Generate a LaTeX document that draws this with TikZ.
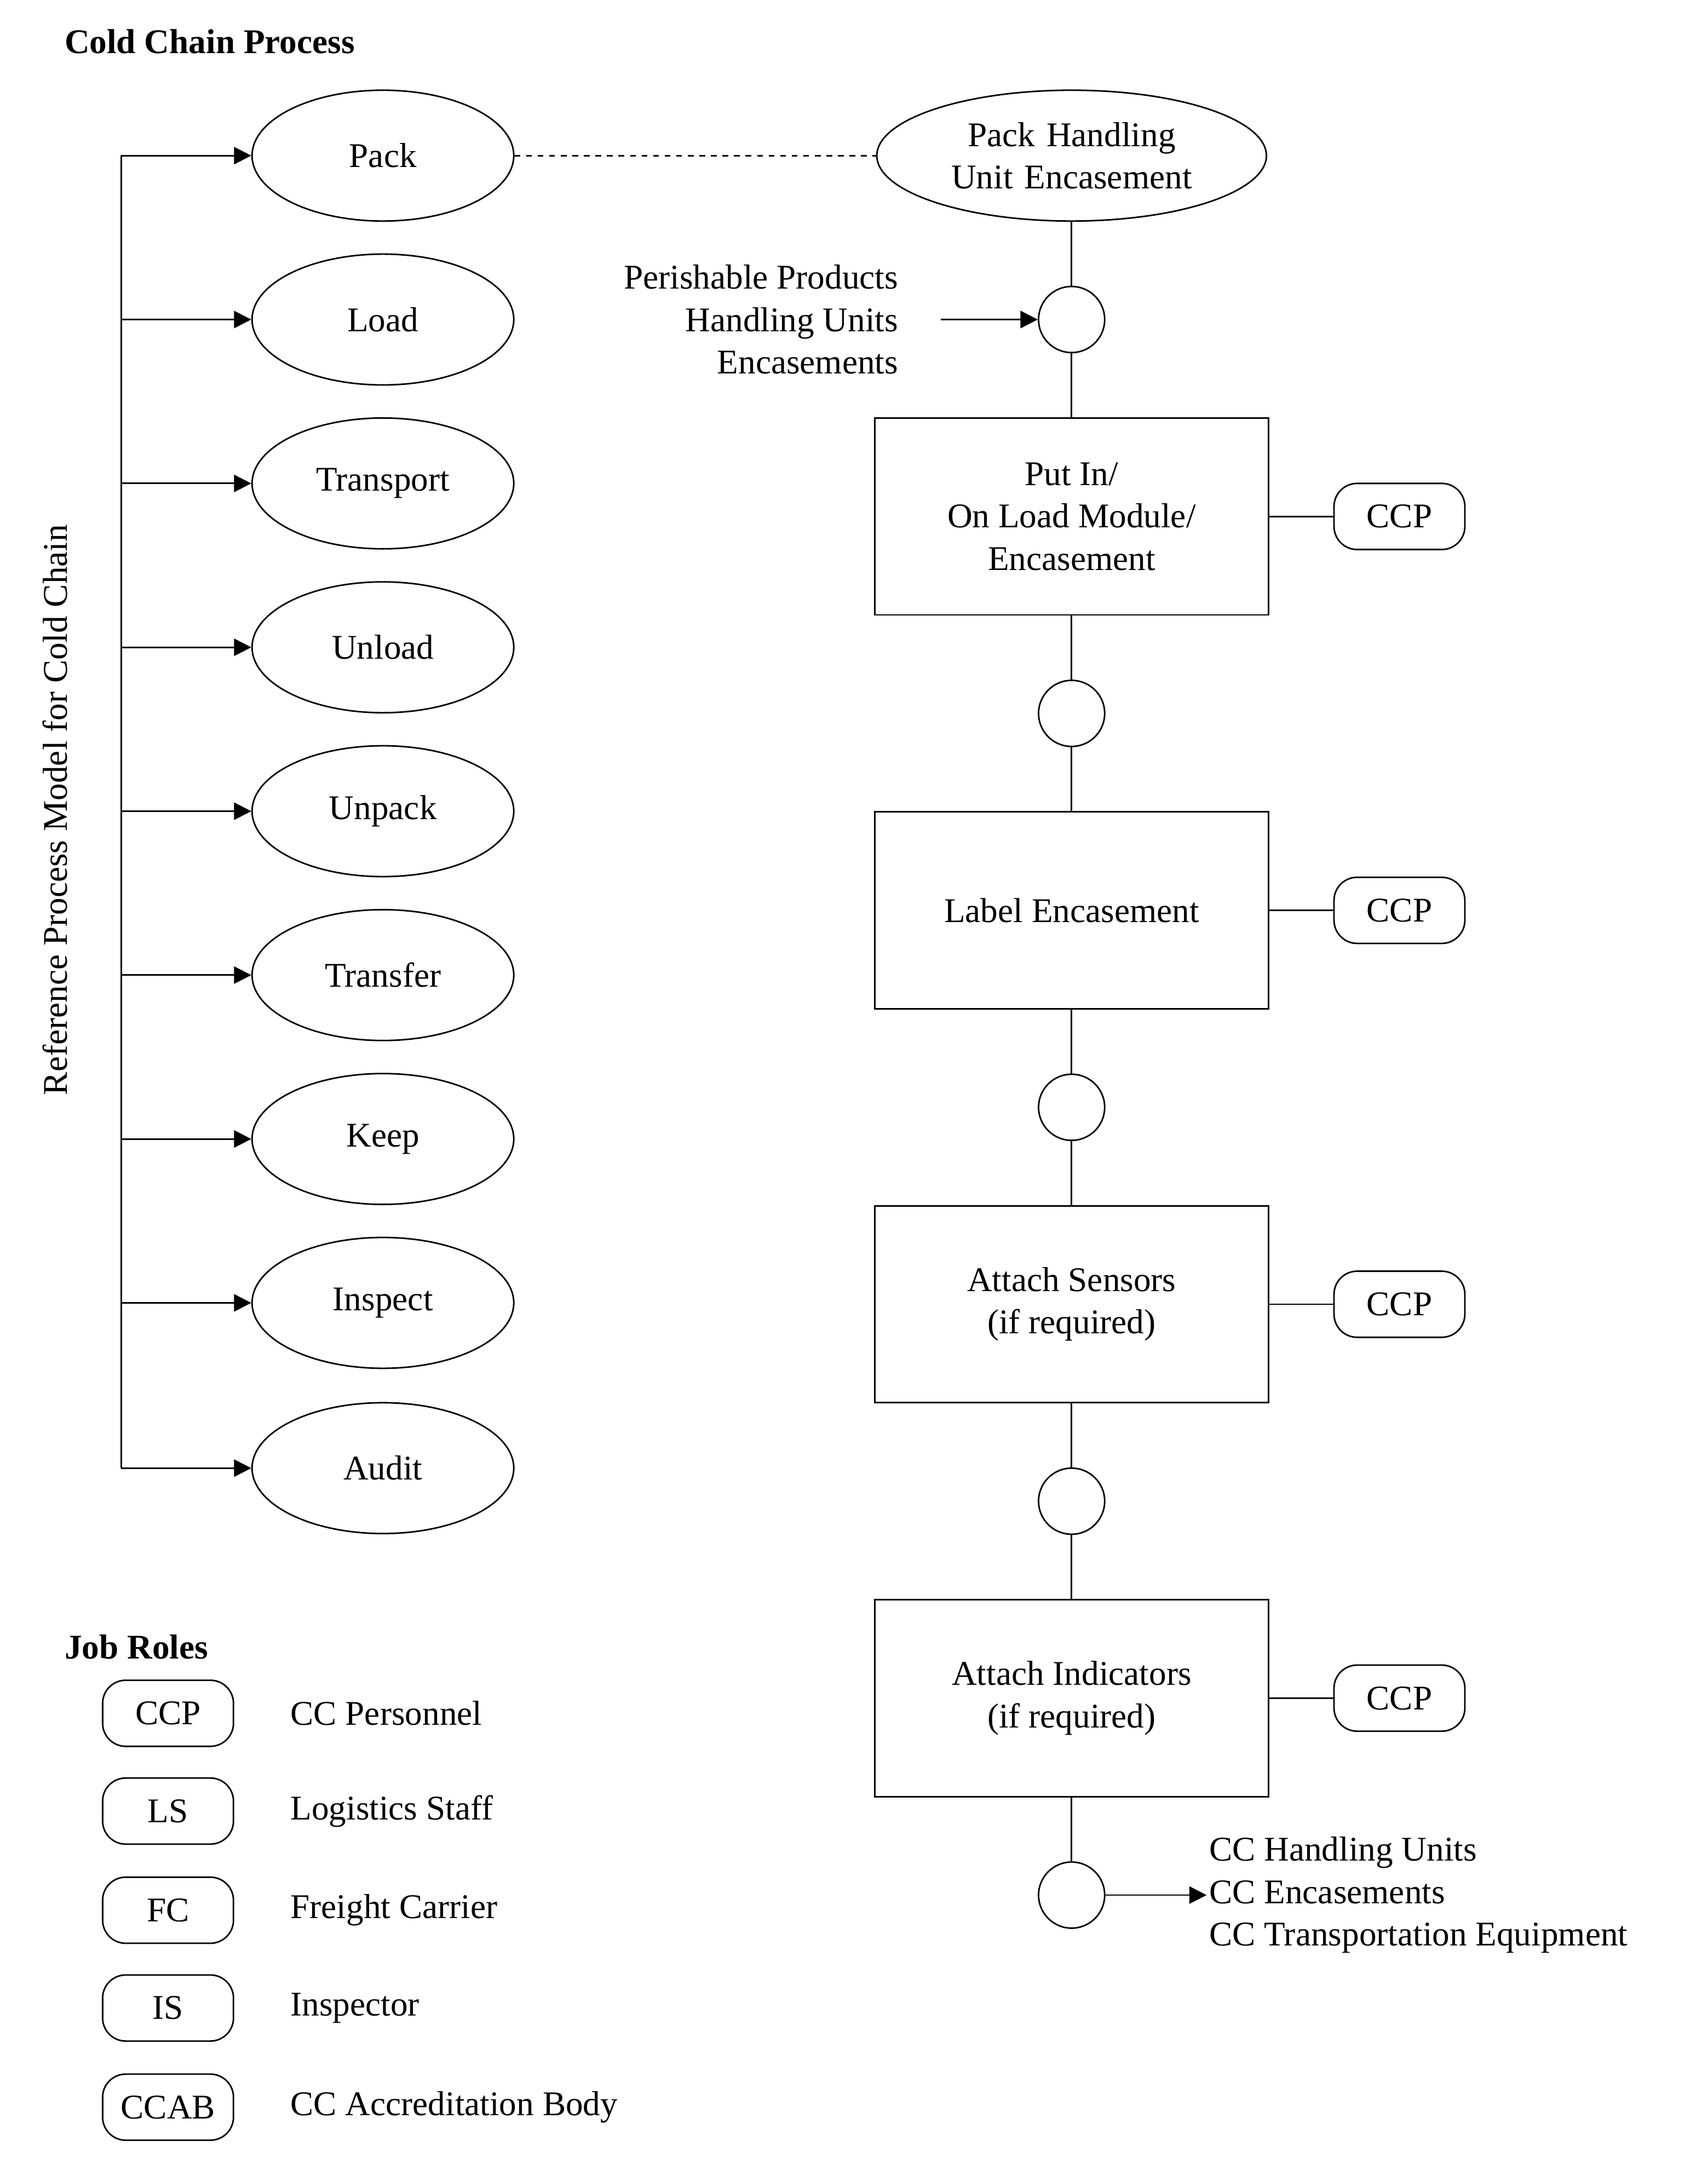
\documentclass[tikz,border=0pt]{standalone}
\usepackage{fontspec}
\setmainfont{Liberation Serif}
\usetikzlibrary{positioning,shapes.geometric,arrows.meta}
\tikzset{
  phase/.style={ellipse,draw,thick,minimum width=190*0.02515cm,minimum height=95*0.02515cm,inner sep=0pt},
  act/.style={rectangle,draw,thick,minimum width=286*0.02515cm,minimum height=143*0.02515cm,align=center},
  gate/.style={circle,draw,thick,minimum size=48*0.02515cm,inner sep=0pt},
  role/.style={rounded corners=12pt,draw,thick,minimum width=95*0.02515cm,minimum height=48*0.02515cm,inner sep=1pt},
  flow/.style={thick,-{Triangle[length=9pt,width=9pt]}}
}
\begin{document}
\begin{tikzpicture}[x=0.02515cm,y=-0.02515cm,font=\fontsize{18}{22}\selectfont]
  \useasboundingbox (0,0) rectangle (1240,1572);
  \node[anchor=west,font=\fontsize{18}{22}\selectfont\bfseries] (title) at (42,30) {Cold Chain Process};
  \node[rotate=90] (model) at (40,588) {Reference Process Model for Cold Chain};
  \coordinate (top) at (88,113);
  \coordinate (bot) at (88,1066);
  \draw[thick] (top) -- (bot);
  \foreach \name/\y in {Pack/113,Load/232,Transport/351,Unload/470,Unpack/589,Transfer/708,Keep/827,Inspect/946,Audit/1066} {
    \node[phase] (\name) at (278,\y) {\name};
    \coordinate (b\name) at (88,\y);
    \draw[flow] (b\name) -- (\name);
  }
  % process flow
  \node[phase,minimum width=238*0.02515cm,align=center,text width=200*0.02515cm] (phue) at (778,113) {Pack Handling\\Unit Encasement};
  \draw[thick,dashed] (Pack) -- (phue);
  \node[gate] (g1) at (778,232) {};
  \node[act] (putin) at (778,375) {Put In/\\On Load Module/\\Encasement};
  \node[gate] (g2) at (778,518) {};
  \node[act] (label) at (778,661) {Label Encasement};
  \node[gate] (g3) at (778,804) {};
  \node[act] (sensors) at (778,947) {Attach Sensors\\(if required)};
  \node[gate] (g4) at (778,1090) {};
  \node[act] (indic) at (778,1233) {Attach Indicators\\(if required)};
  \node[gate] (g5) at (778,1376) {};
  \draw[thick] (phue) -- (g1) -- (putin) -- (g2) -- (label) -- (g3) -- (sensors) -- (g4) -- (indic) -- (g5);
  \foreach \blk/\y in {putin/375,label/661,sensors/947,indic/1233} {
    \node[role] (ccp\blk) at (1016,\y) {CCP};
    \draw[thick] (\blk) -- (ccp\blk);
  }
  \node[anchor=east,align=right] (input) at (657,232) {Perishable Products\\Handling Units\\Encasements};
  \coordinate (in) at (683,232);
  \draw[flow] (in) -- (g1);
  \node[anchor=west,align=left] (output) at (873,1376) {CC Handling Units\\CC Encasements\\CC Transportation Equipment};
  \coordinate (out) at (876,1376);
  \draw[flow] (g5) -- (out);
  % job roles
  \node[anchor=west,font=\fontsize{18}{22}\selectfont\bfseries] (roles) at (42,1196) {Job Roles};
  \foreach \abbr/\desc/\y in {CCP/CC Personnel/1244,LS/Logistics Staff/1315,FC/Freight Carrier/1387,IS/Inspector/1458,CCAB/CC Accreditation Body/1530} {
    \node[role] (r\abbr) at (122,\y) {\abbr};
    \node[anchor=west] (d\abbr) at (206,\y) {\desc};
  }
\end{tikzpicture}
\end{document}
